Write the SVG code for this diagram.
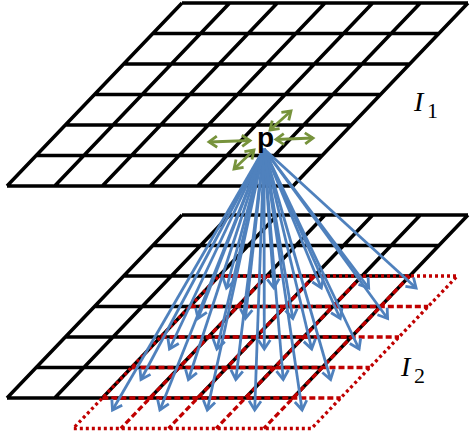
<svg xmlns="http://www.w3.org/2000/svg" width="474" height="432" viewBox="0 0 474 432">
<style>
.grid{fill:none;stroke:#000;stroke-width:3.5;stroke-linejoin:miter}
.rin{fill:none;stroke:#c00000;stroke-width:3.3;stroke-dasharray:6 3}
.rout{fill:none;stroke:#c00000;stroke-width:3.3;stroke-dasharray:3 3}
.blue{fill:none;stroke:#4f81bd;stroke-width:2.8;marker-end:url(#bh)}
.green{fill:none;stroke:#77933c;stroke-width:2.8;marker-start:url(#gh);marker-end:url(#gh)}
.lab{font-family:"Liberation Serif",serif;font-style:italic;fill:#000}
.sub{font-family:"Liberation Serif",serif;fill:#000}
</style>
<defs>
<marker id="bh" markerUnits="userSpaceOnUse" markerWidth="16" markerHeight="16" viewBox="-12 -8 14 16" refX="0" refY="0" orient="auto">
<path d="M-9,-6 L0,0 L-9,6" fill="none" stroke="#4f81bd" stroke-width="2.8"/>
</marker>
<marker id="gh" markerUnits="userSpaceOnUse" markerWidth="16" markerHeight="16" viewBox="-12 -8 14 16" refX="0" refY="0" orient="auto-start-reverse">
<path d="M-8,-5.5 L0,0 L-8,5.5" fill="none" stroke="#77933c" stroke-width="2.8"/>
</marker>
</defs>

<g id="grid-I1">
<path class="grid" d="M182,3H468M152.83,33.5H438.83M123.67,64H409.67M94.5,94.5H380.5M65.33,125H351.33M36.17,155.5H322.17M7,186H293
M182,3L7,186M229.67,3L54.67,186M277.33,3L102.33,186M325,3L150,186M372.67,3L197.67,186M420.33,3L245.33,186M468,3L293,186"/>
</g>

<g id="grid-I2">
<path class="grid" d="M182,215H468M152.83,245.5H438.83M123.67,276H409.67M94.5,306.5H380.5M65.33,337H351.33M36.17,367.5H322.17M7,398H293
M182,215L7,398M229.67,215L54.67,398M277.33,215L102.33,398M325,215L150,398M372.67,215L197.67,398M420.33,215L245.33,398M468,215L293,398"/>
</g>

<g id="grid-warped">
<path class="rin" d="M189.83,306.5H428.17M160.67,337H399M131.5,367.5H369.83M102.33,398H340.67
M266.67,276L120.83,428.5M314.33,276L168.5,428.5M362,276L216.17,428.5M409.67,276L263.83,428.5"/>
<path class="rout" d="M219,276H457.33L311.5,428.5H73.17Z"/>
</g>

<g id="connectors">
<line class="blue" x1="264" y1="149" x2="226.5" y2="288"/>
<line class="blue" x1="264" y1="149" x2="273.9" y2="288"/>
<line class="blue" x1="264" y1="149" x2="321.3" y2="288"/>
<line class="blue" x1="264" y1="149" x2="368.7" y2="288"/>
<line class="blue" x1="264" y1="149" x2="416.1" y2="288"/>
<line class="blue" x1="264" y1="149" x2="198" y2="318.5"/>
<line class="blue" x1="264" y1="149" x2="245.4" y2="318.5"/>
<line class="blue" x1="264" y1="149" x2="292.8" y2="318.5"/>
<line class="blue" x1="264" y1="149" x2="340.2" y2="318.5"/>
<line class="blue" x1="264" y1="149" x2="387.6" y2="318.5"/>
<line class="blue" x1="264" y1="149" x2="169.5" y2="349"/>
<line class="blue" x1="264" y1="149" x2="216.9" y2="349"/>
<line class="blue" x1="264" y1="149" x2="264.3" y2="349"/>
<line class="blue" x1="264" y1="149" x2="311.7" y2="349"/>
<line class="blue" x1="264" y1="149" x2="359.1" y2="349"/>
<line class="blue" x1="264" y1="149" x2="141" y2="379.5"/>
<line class="blue" x1="264" y1="149" x2="188.4" y2="379.5"/>
<line class="blue" x1="264" y1="149" x2="235.8" y2="379.5"/>
<line class="blue" x1="264" y1="149" x2="283.2" y2="379.5"/>
<line class="blue" x1="264" y1="149" x2="330.6" y2="379.5"/>
<line class="blue" x1="264" y1="149" x2="112.5" y2="410"/>
<line class="blue" x1="264" y1="149" x2="159.9" y2="410"/>
<line class="blue" x1="264" y1="149" x2="207.3" y2="410"/>
<line class="blue" x1="264" y1="149" x2="254.7" y2="410"/>
<line class="blue" x1="264" y1="149" x2="302.1" y2="410"/>
</g>

<g id="motion">
<line class="green" x1="250" y1="140.5" x2="209" y2="142"/>
<line class="green" x1="276" y1="139.5" x2="313" y2="138"/>
<line class="green" x1="270" y1="130" x2="291" y2="111"/>
<line class="green" x1="254" y1="150" x2="234" y2="169"/>
</g>

<g id="point-p">
<text x="265.5" y="147" font-family="Liberation Sans, Arial, sans-serif" font-weight="bold" font-size="28" text-anchor="middle" fill="#000">p</text>
</g>

<g id="label-I1">
<text class="lab" x="414" y="111" font-size="28">I</text>
<text class="sub" x="427" y="118" font-size="22">1</text>
</g>
<g id="label-I2">
<text class="lab" x="401" y="376" font-size="28">I</text>
<text class="sub" x="414" y="383" font-size="22">2</text>
</g>
</svg>
